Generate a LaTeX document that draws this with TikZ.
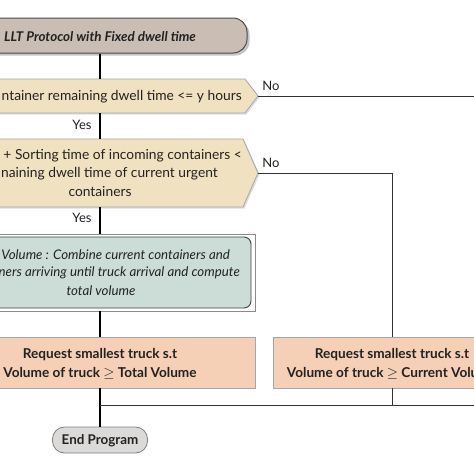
\documentclass[tikz,border=0pt]{standalone}
\usepackage{fontspec}
\setmainfont{Lato}
\usetikzlibrary{shadows,calc}
\definecolor{topfill}{HTML}{CABEB4}
\definecolor{decfill}{HTML}{F0E2C1}
\definecolor{tealfill}{HTML}{CCDDD8}
\definecolor{orfill}{HTML}{F5D0B7}
\definecolor{endfill}{HTML}{DCDAD8}
\definecolor{txt}{HTML}{222222}
\tikzset{
  trunk/.style={line width=2.4pt, black},
  thinline/.style={line width=1pt, black!80},
  lbl/.style={font=\fontsize{13}{15}\selectfont, text=txt, inner sep=0pt},
  dectxt/.style={font=\fontsize{13.8}{15}\selectfont, text=txt, inner sep=0pt},
  boxtxt/.style={font=\bfseries\fontsize{13.6}{15}\selectfont, text=txt, inner sep=0pt},
  itxt/.style={font=\itshape\fontsize{13.3}{15}\selectfont, text=txt, inner sep=0pt},
  decshape/.style={fill=decfill, draw=black!35, line width=0.8pt, drop shadow={opacity=0.25, shadow xshift=1.5pt, shadow yshift=-1.5pt}},
}
\begin{document}
\begin{tikzpicture}[x=1pt,y=-1pt]
\useasboundingbox (0,0) rectangle (474,474);
\fill[white] (0,0) rectangle (474,474);
\clip (0,0) rectangle (474,474);

% start box
\node[draw=black!70, line width=1pt, fill=topfill, rounded corners=14pt,
      minimum width=294pt, minimum height=35pt, inner sep=0pt,
      drop shadow={opacity=0.45, shadow xshift=2.5pt, shadow yshift=-2.5pt}]
  (start) at (100,35.5) {};
\node[font=\bfseries\itshape\fontsize{13.4}{15}\selectfont, text=txt, inner sep=0pt] (starttxt) at (100,36.5) {LLT Protocol with Fixed dwell time};

% decision 1
\path[decshape] (-60,79) -- (245,79) -- (258,96) -- (245,113) -- (-60,113) -- cycle;
\coordinate (d1top) at (100,79);
\coordinate (d1bot) at (100,113);
\coordinate (d1tip) at (258,96);
\coordinate (d1far) at (480,96);
\node[dectxt, anchor=east] (d1txt) at (242,97) {ntainer remaining dwell time <= y hours};

% decision 2
\path[decshape] (-60,139) -- (243,139) -- (258,173) -- (243,207) -- (-60,207) -- cycle;
\coordinate (d2top) at (100,139);
\coordinate (d2bot) at (100,207);
\coordinate (d2tip) at (258,173);
\node[dectxt, anchor=east] (d2a) at (242,155.5) {+ Sorting time of incoming containers <};
\node[dectxt, anchor=east] (d2b) at (218,173.5) {naining dwell time of current urgent};
\node[dectxt] (d2c) at (100,191.5) {containers};

% teal process
\node[draw=black!45, line width=0.7pt, fill=white, minimum width=310pt, minimum height=77pt, inner sep=0pt] (tealframe) at (100,272.5) {};
\node[draw=black!75, line width=0.9pt, fill=tealfill, rounded corners=7pt, minimum width=302pt, minimum height=71pt, inner sep=0pt] (teal) at (100,272.5) {};
\node[itxt, anchor=east] (t1) at (230,254.5) {Volume : Combine current containers and};
\node[itxt, anchor=east] (t2) at (240,272.5) {ners arriving until truck arrival and compute};
\node[itxt] (t3) at (101,291) {total volume};

% orange boxes
\node[draw=black!35, line width=0.8pt, fill=orfill, minimum width=310pt, minimum height=51pt, inner sep=0pt] (orL) at (100,362.5) {};
\node[boxtxt] (oL1) at (100,355) {Request smallest truck s.t};
\node[boxtxt] (oL2) at (100,373) {Volume of truck $\geq$ Total Volume};

\node[draw=black!35, line width=0.8pt, fill=orfill, minimum width=240pt, minimum height=51pt, inner sep=0pt, anchor=west] (orR) at (273,362.5) {};
\node[boxtxt] (oR1) at (392,355) {Request smallest truck s.t};
\node[boxtxt] (oR2) at (392,373) {Volume of truck $\geq$ Current Volume};

% end
\node[draw=black!50, line width=0.8pt, fill=endfill, rounded corners=12pt, minimum width=95pt, minimum height=26pt, inner sep=0pt] (endp) at (100,440) {};
\node[font=\bfseries\fontsize{13.4}{15}\selectfont, text=txt, inner sep=0pt] (endtxt) at (100,440.5) {End Program};

% connectors
\draw[trunk] (start.south) -- (d1top);
\draw[trunk] (d1bot) -- (d2top);
\draw[trunk] (d2bot) -- (tealframe.north);
\draw[trunk] (tealframe.south) -- (orL.north);
\draw[trunk] (orL.south) -- (endp.north);
\coordinate (joinL) at (100,405);
\coordinate (joinR) at (392,405);
\coordinate (joinFar) at (480,405);
\draw[thinline] (d1tip) -- (d1far);
\draw[thinline] (d2tip) -| (orR.north -| joinR);
\draw[thinline] (orR.south -| joinR) -- (joinR);
\draw[thinline] (joinL) -- (joinFar);

% labels
\node[lbl] (no1) at (271,86) {No};
\node[lbl] (yes1) at (82,124.5) {Yes};
\node[lbl] (no2) at (271,163) {No};
\node[lbl] (yes2) at (82,218) {Yes};
\end{tikzpicture}
\end{document}
